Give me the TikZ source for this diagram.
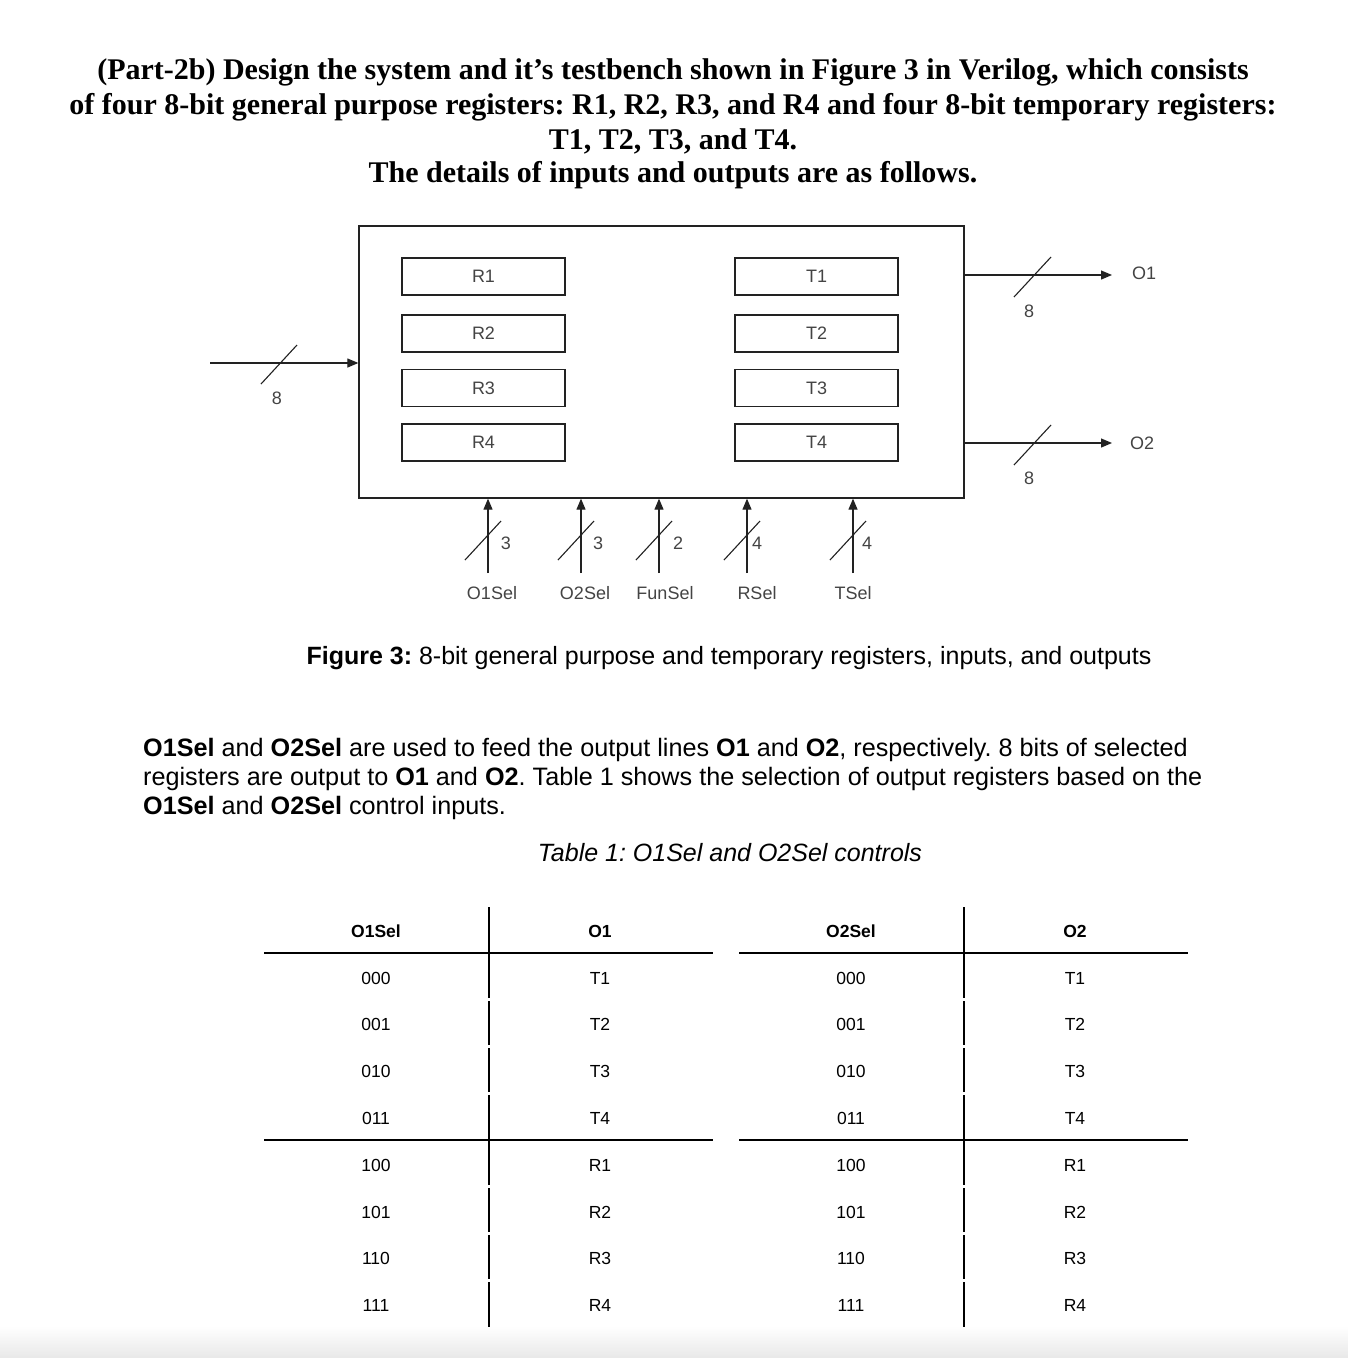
\documentclass[tikz,border=0pt]{standalone}
\usepackage{fontspec}
\setmainfont{Liberation Sans}
\newfontfamily\titlefont{Liberation Serif}
\usetikzlibrary{arrows.meta}
\definecolor{ink}{HTML}{222222}
\definecolor{lbl}{HTML}{444444}
\begin{document}
\frenchspacing
\begin{tikzpicture}[x=1pt,y=-1pt,
  titleline/.style={font=\titlefont\bfseries\fontsize{30}{34}\selectfont, inner sep=0pt, anchor=center},
  regbox/.style={draw=ink, line width=1.3pt, minimum width=163pt, minimum height=37pt, inner sep=0pt, text=lbl, font=\fontsize{18}{21}\selectfont},
  mainbox/.style={draw=ink, line width=1.3pt, minimum width=605pt, minimum height=272pt, inner sep=0pt},
  arr/.style={draw=ink, line width=1.2pt, -{Triangle[length=11pt,width=9pt]}},
  busslash/.style={draw=ink, line width=1.1pt},
  small/.style={text=lbl, font=\fontsize{18}{21}\selectfont, inner sep=0pt},
  caption/.style={font=\fontsize{25}{30}\selectfont, inner sep=0pt},
  para/.style={font=\fontsize{25.2}{30}\selectfont, inner sep=0pt, anchor=west},
  cell/.style={font=\fontsize{17.5}{20}\selectfont, inner sep=0pt},
  hcell/.style={font=\bfseries\fontsize{17.5}{20}\selectfont, inner sep=0pt},
  rule/.style={draw=black, line width=1.6pt},
  vrule/.style={draw=black, line width=1.6pt}
]
\useasboundingbox (0,0) rectangle (1348,1358);
\fill[white] (0,0) rectangle (1348,1358);
\shade[top color=white, bottom color=black!9] (0,1326) rectangle (1348,1358);

% Title
\node[titleline] (t1) at (673,72) {(Part-2b) Design the system and it’s testbench shown in Figure 3 in Verilog, which consists};
\node[titleline] (t2) at (673,107) {of four 8-bit general purpose registers: R1, R2, R3, and R4 and four 8-bit temporary registers:};
\node[titleline] (t3) at (673,141) {T1, T2, T3, and T4.};
\node[titleline] (t4) at (673,175) {The details of inputs and outputs are as follows.};

% Main box
\node[mainbox] (box) at (661.5,362) {};
\node[regbox] (R1) at (483.5,276.5) {R1};
\node[regbox] (R2) at (483.5,333.5) {R2};
\node[regbox] (R3) at (483.5,388) {R3};
\node[regbox] (R4) at (483.5,442.5) {R4};
\node[regbox] (T1) at (816.5,276.5) {T1};
\node[regbox] (T2) at (816.5,333.5) {T2};
\node[regbox] (T3) at (816.5,388) {T3};
\node[regbox] (T4) at (816.5,442.5) {T4};

% Input bus
\coordinate (inS) at (210,363);
\draw[arr] (inS) -- (inS -| box.west);
\draw[busslash] (261,384) -- (297,345);
\node[small] (in8) at (277,398) {8};

% Output buses
\coordinate (o1s) at (964,275);
\coordinate (o1e) at (1112,275);
\draw[arr] (o1s) -- (o1e);
\draw[busslash] (1014,297) -- (1051,257);
\node[small] (o1n) at (1029,311) {8};
\node[small, anchor=west] (O1) at (1132,273) {O1};
\coordinate (o2s) at (964,443);
\coordinate (o2e) at (1112,443);
\draw[arr] (o2s) -- (o2e);
\draw[busslash] (1014,465) -- (1051,425);
\node[small] (o2n) at (1029,478) {8};
\node[small, anchor=west] (O2) at (1130,443) {O2};

% Control inputs
\foreach \nm/\x/\w/\lx/\lab/\nx in {a/488/3/492/O1Sel/506, b/581/3/585/O2Sel/598, c/659/2/665/FunSel/678, d/747/4/757/RSel/757, e/853/4/853/TSel/867}{
  \coordinate (c\nm) at (\x,573);
  \draw[arr] (c\nm) -- (c\nm |- box.south);
  \draw[busslash] (\x-23,560) -- (\x+13,521);
  \node[small] (n\nm) at (\nx,543) {\w};
  \node[small] (l\nm) at (\lx,593) {\lab};
}

% Caption
\node[caption] (cap) at (729,658) {\textbf{Figure 3:} 8-bit general purpose and temporary registers, inputs, and outputs};

% Paragraph
\node[para] (p1) at (143,750) {\textbf{O1Sel} and \textbf{O2Sel} are used to feed the output lines \textbf{O1} and \textbf{O2}, respectively. 8 bits of selected};
\node[para] (p2) at (143,779) {registers are output to \textbf{O1} and \textbf{O2}. Table 1 shows the selection of output registers based on the};
\node[para] (p3) at (143,808) {\textbf{O1Sel} and \textbf{O2Sel} control inputs.};

\node[caption, font=\itshape\fontsize{25}{30}\selectfont] (tcap) at (730,853) {Table 1: O1Sel and O2Sel controls};

% Table rules
\draw[rule] (264,953) -- (713,953);
\draw[rule] (264,1140) -- (713,1140);
\draw[rule] (739,953) -- (1188,953);
\draw[rule] (739,1140) -- (1188,1140);
\foreach \vx in {489,964}{
  \foreach \ya/\yb in {907/998, 1001/1045, 1048/1092, 1095/1185, 1188/1232, 1235/1279, 1282/1327}{
    \draw[vrule] (\vx,\ya) -- (\vx,\yb);
  }
}

% Table headers
\node[hcell] (h1) at (376,931) {O1Sel};
\node[hcell] (h2) at (600,931) {O1};
\node[hcell] (h3) at (851,931) {O2Sel};
\node[hcell] (h4) at (1075,931) {O2};

% Table body
\foreach \i/\code/\reg in {0/000/T1, 1/001/T2, 2/010/T3, 3/011/T4, 4/100/R1, 5/101/R2, 6/110/R3, 7/111/R4}{
  \node[cell] (a\i) at (376,978+46.8*\i) {\code};
  \node[cell] (b\i) at (600,978+46.8*\i) {\reg};
  \node[cell] (c\i) at (851,978+46.8*\i) {\code};
  \node[cell] (d\i) at (1075,978+46.8*\i) {\reg};
}
\end{tikzpicture}
\end{document}
